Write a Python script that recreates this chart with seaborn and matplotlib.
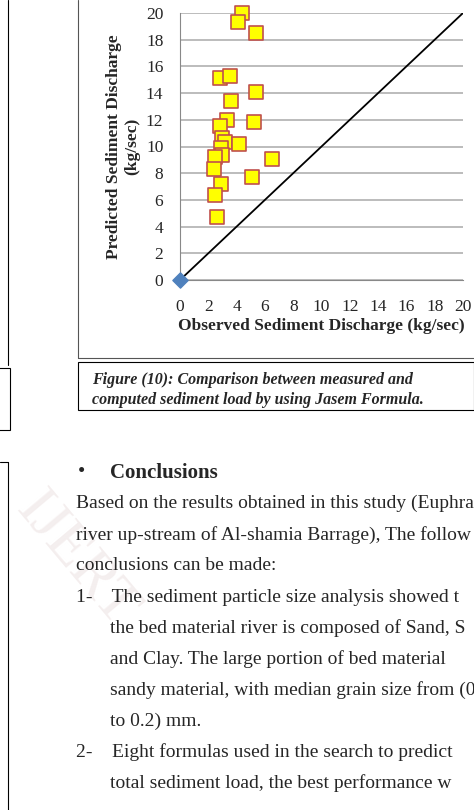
import matplotlib.pyplot as plt
import seaborn as sns
import pandas as pd
from matplotlib.lines import Line2D
from matplotlib.patches import Rectangle

observed = [4.4, 4.1, 5.4, 2.8, 3.5, 5.4, 3.6, 3.3, 2.8, 5.2, 3.0, 3.2, 4.2, 2.9, 3.0, 2.5, 2.4, 6.5, 5.1, 2.9, 2.5, 2.6]
predicted = [20.0, 19.3, 18.5, 15.1, 15.3, 14.1, 13.4, 12.0, 11.5, 11.8, 10.6, 10.3, 10.2, 9.9, 9.4, 9.2, 8.3, 9.1, 7.7, 7.2, 6.4, 4.7]
line_xy = [0, 20]
ticks = list(range(0, 21, 2))

df = pd.DataFrame({"obs": observed, "pred": predicted})

sns.set_style("white")
plt.rcParams['font.family'] = ['Liberation Serif', 'DejaVu Serif']

fig = plt.figure(figsize=(4.74, 8.10), dpi=100)
W, H = 474, 810
ax = fig.add_axes([180 / W, 1 - 280 / H, 283 / W, 267 / H])

ax.yaxis.grid(True, color='#b0b0b0', lw=1.2)
sns.lineplot(x=line_xy, y=line_xy, ax=ax, color='black', lw=1.3)
sns.scatterplot(data=df, x="obs", y="pred", ax=ax, marker='s', s=110,
                color='#ffff00', edgecolor='#c0504d', linewidth=1.2, zorder=3, clip_on=False)
ax.scatter([0], [0], marker='D', s=60, color='#4f81bd', zorder=4, clip_on=False)
ax.set_xlim(0, 20)
ax.set_ylim(0, 20)
ax.set_xticks(ticks)
ax.set_yticks(ticks)
ax.tick_params(labelsize=12.5, length=4, color='#888888')
ax.tick_params(axis='x', pad=10)
ax.tick_params(axis='y', pad=8)
for s in ['top', 'right']:
    ax.spines[s].set_visible(False)
for s in ['left', 'bottom']:
    ax.spines[s].set_color('#888888')
ax.set_xlabel("Observed Sediment Discharge (kg/sec)", fontsize=12.5, fontweight='bold', labelpad=2)
ax.set_ylabel("Predicted Sediment Discharge\n(kg/sec)", fontsize=12.5, fontweight='bold', labelpad=4)
ax.set_xticklabels([str(t) for t in ticks])

def px(x, y):
    return x / W, 1 - y / H

# page frames
fig.add_artist(Line2D([78 / W, 78 / W], [1 - 358 / H, 1], color='#555555', lw=0.8))
fig.add_artist(Line2D([78 / W, 1], [1 - 358 / H, 1 - 358 / H], color='#555555', lw=0.8))
fig.add_artist(Rectangle(px(78, 410), 396 / W, 48 / H, fill=False, ec='black', lw=0.8))
fig.add_artist(Line2D([8 / W, 8 / W], [1 - 365 / H, 1], color='black', lw=0.8))
fig.add_artist(Rectangle(px(-5, 430), 15 / W, 62 / H, fill=False, ec='black', lw=0.8))
fig.add_artist(Line2D([8 / W, 8 / W], [0, 1 - 462 / H], color='black', lw=0.8))
fig.add_artist(Line2D([0, 8 / W], [1 - 462 / H, 1 - 462 / H], color='black', lw=0.8))

fig.text(*px(92, 380), "Figure (10): Comparison between measured and", fontsize=11.5,
         style='italic', fontweight='bold', va='center')
fig.text(*px(92, 400), "computed sediment load by using Jasem Formula.", fontsize=11.5,
         style='italic', fontweight='bold', va='center')

fig.text(*px(5, 560), "IJERT", fontsize=44, color='#f0e8e8', rotation=-50,
         ha='left', va='center', alpha=0.7)

fig.text(*px(78, 473), "\u2022", fontsize=15, va='center')
fig.text(*px(110, 473), "Conclusions", fontsize=15, fontweight='bold', va='center')
lines = [
    (76, 503, "Based on the results obtained in this study (Euphra"),
    (76, 535, "river up-stream of Al-shamia Barrage), The follow"),
    (76, 566, "conclusions can be made:"),
    (76, 597, "1-    The sediment particle size analysis showed t"),
    (110, 628, "the bed material river is composed of Sand, S"),
    (110, 659, "and Clay. The large portion of bed material"),
    (110, 690, "sandy material, with median grain size from (0.1"),
    (110, 721, "to 0.2) mm."),
    (76, 752, "2-    Eight formulas used in the search to predict"),
    (110, 783, "total sediment load, the best performance w"),
]
for x, y, t in lines:
    fig.text(*px(x, y), t, fontsize=14, va='center')

fig.savefig("out.png", dpi=100)
